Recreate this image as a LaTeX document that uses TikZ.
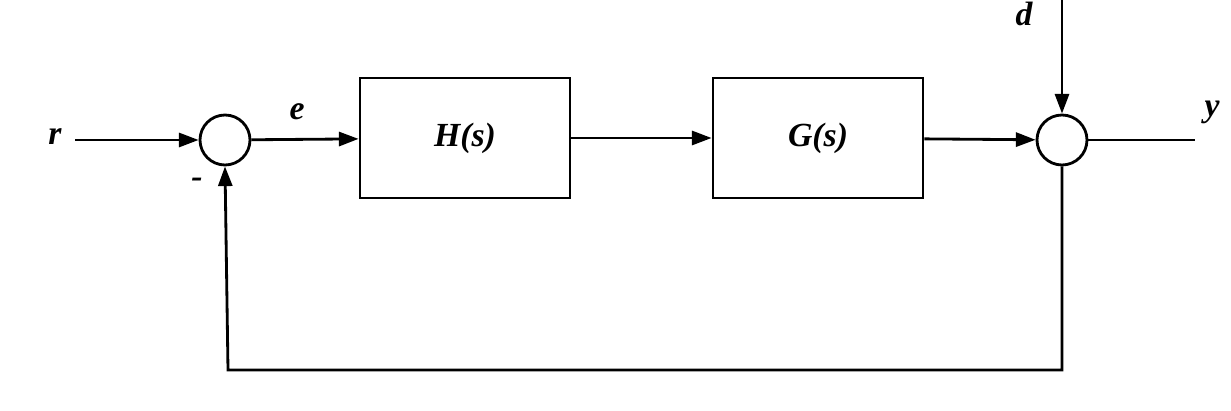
\documentclass[tikz,border=0pt]{standalone}
\usepackage{fontspec}
\setmainfont{Liberation Serif}
\usetikzlibrary{arrows.meta}
\begin{document}
\begin{tikzpicture}[x=0.025cm,y=-0.025cm,
  line width=2pt,
  arr/.style={-{Triangle[length=14pt,width=10pt]}},
  blk/.style={draw,minimum width=210*0.025cm,minimum height=120*0.025cm,inner sep=0pt},
  sumnode/.style={draw,circle,minimum size=50*0.025cm,inner sep=0pt},
  lbl/.style={font=\fontsize{24}{28}\selectfont\bfseries\itshape}]
\useasboundingbox (0,0) rectangle (1231,411);
\node[sumnode] (s1) at (225,140) {};
\node[blk,lbl] (H) at (465,138) {H(s)};
\node[blk,lbl] (G) at (818,138) {G(s)};
\node[sumnode] (s2) at (1062,140) {};
\coordinate (rin) at (75,140);
\coordinate (din) at (1062,0);
\coordinate (yout) at (1195,140);
\coordinate (fb1) at (1062,370);
\coordinate (fb2) at (228,370);
\node[lbl] (r) at (55,137) {r};
\node[lbl] (e) at (297,112) {e};
\node[lbl] (d) at (1024,14) {d};
\node[lbl] (y) at (1212,112) {y};
\node[lbl] (minus) at (197,183) {-};
\draw[arr] (rin) -- (s1);
\draw[arr] (s1) -- (H);
\draw[arr] (H) -- (G);
\draw[arr] (G) -- (s2);
\draw[arr] (din) -- (s2);
\draw (s2) -- (yout);
\draw[arr] (s2.south) -- (fb1) -- (fb2) -- (s1.south);
\end{tikzpicture}
\end{document}
